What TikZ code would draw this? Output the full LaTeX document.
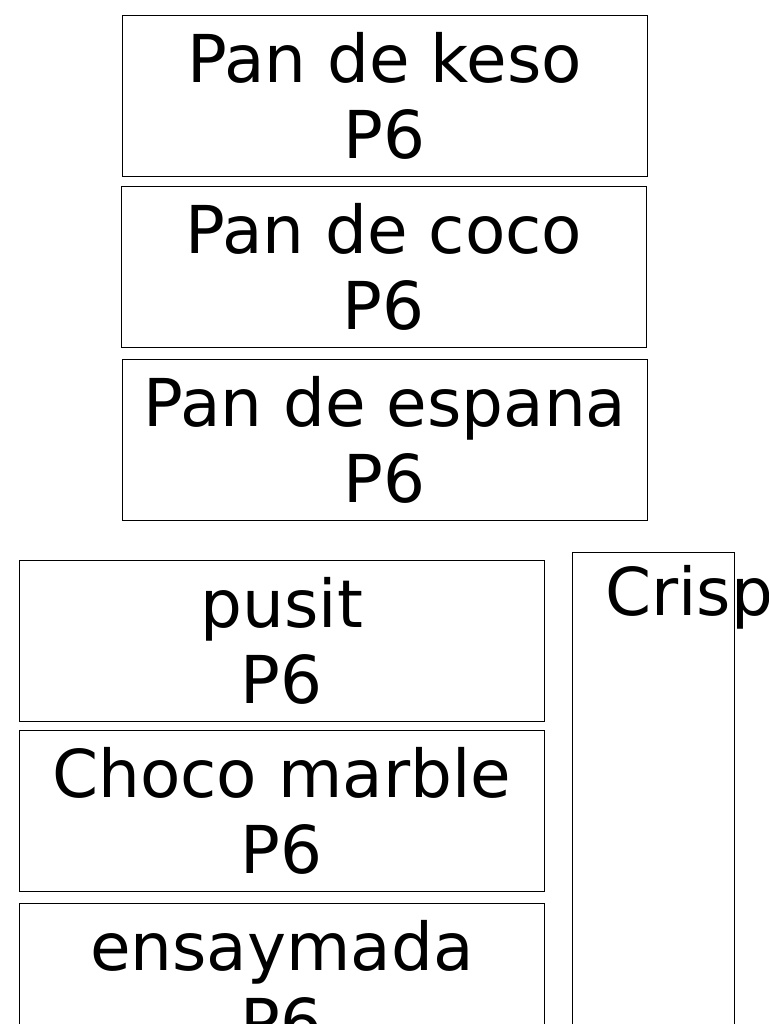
\documentclass[tikz,border=0pt]{standalone}
\usepackage{fontspec}
\setmainfont{DejaVu Sans}
\usetikzlibrary{positioning}

\begin{document}
\begin{tikzpicture}[
        x=1pt, y=-1pt,
        % box styles
        menubox/.style={rectangle, draw=black, thin, minimum width=525pt, minimum height=161pt,
            inner sep=0pt, align=center, font=\fontsize{66}{76}\selectfont},
        tallbox/.style={rectangle, draw=black, thin, minimum width=162pt, minimum height=520pt,
            inner sep=0pt}
    ]
    \useasboundingbox (0,0) rectangle (768,1024);
    \clip (0,0) rectangle (768,1024);

    % top column
    \node[menubox, anchor=north west] (keso) at (122,15) {Pan de keso\\P6};
    \node[menubox, below=10pt of keso.south west, anchor=north west, xshift=-1pt] (coco) {Pan de coco\\P6};
    \node[menubox, below=11pt of coco.south west, anchor=north west, xshift=1pt] (espana) {Pan de espana\\P6};

    % bottom column
    \node[menubox, anchor=north west] (pusit) at (19,560) {pusit\\P6};
    \node[menubox, below=9pt of pusit.south west, anchor=north west] (marble) {Choco marble\\P6};
    \node[menubox, below=11pt of marble.south west, anchor=north west] (ensay) {ensaymada\\P6};

    % side box
    \node[tallbox, anchor=north west] (side) at (572,552) {};
    \node[anchor=north west, inner sep=0pt, font=\fontsize{66}{76}\selectfont] (crisp) at (605,565) {Crisp};
\end{tikzpicture}
\end{document}
